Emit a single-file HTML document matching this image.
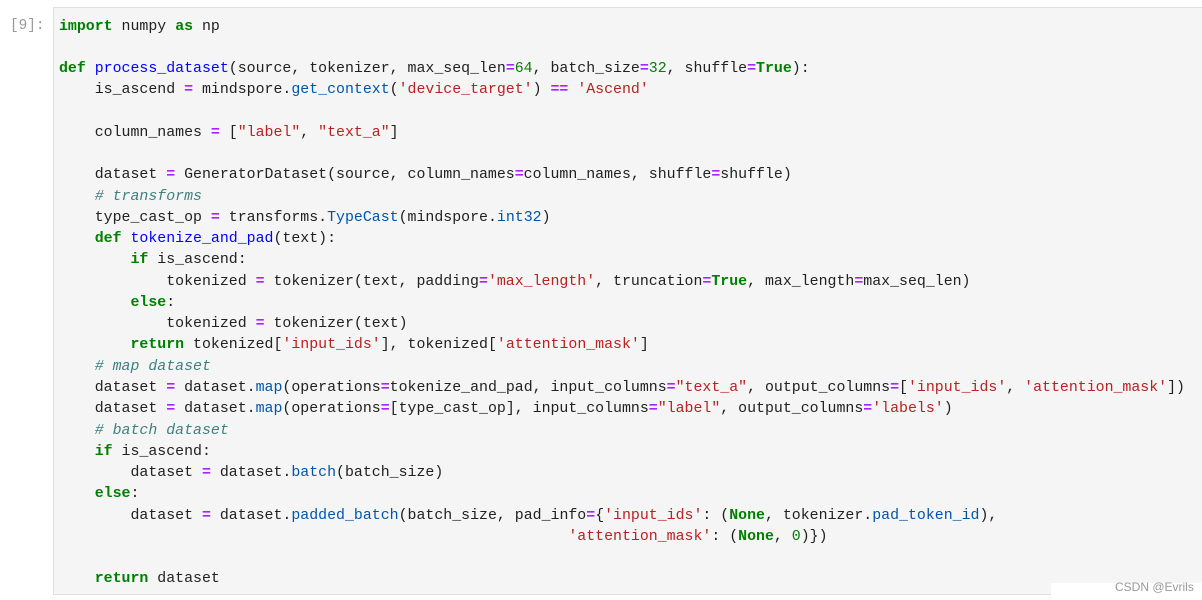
<!DOCTYPE html>
<html><head><meta charset="utf-8"><style>
html,body{margin:0;padding:0;background:#fff;width:1202px;height:600px;overflow:hidden}
.prompt{position:absolute;left:10px;top:16px;font:14.4px/21.25px "Liberation Mono",monospace;color:#999}
.box{position:absolute;left:53px;top:7px;width:1160px;height:586px;background:#f5f5f5;border:1px solid #e0e0e0}
pre{position:absolute;left:59px;top:16.5px;margin:0;font:14.9px/21.27px "Liberation Mono",monospace;color:#212121}
.k{color:#008000;font-weight:bold}.f{color:#0000ff}.o{color:#aa22ff;font-weight:bold}
.s{color:#ba2121}.c{color:#408080;font-style:italic}.n{color:#008000}.p{color:#0055aa}
.wm{position:absolute;left:1051px;top:583px;width:151px;height:17px;background:#fff}
.wm span{position:absolute;left:64px;top:-3px;font:12px "Liberation Sans",sans-serif;color:#999}
</style></head><body>
<div class="prompt">[9]:</div>
<div class="box"></div>
<pre><span class="k">import</span> numpy <span class="k">as</span> np

<span class="k">def</span> <span class="f">process_dataset</span>(source, tokenizer, max_seq_len<span class="o">=</span><span class="n">64</span>, batch_size<span class="o">=</span><span class="n">32</span>, shuffle<span class="o">=</span><span class="k">True</span>):
    is_ascend <span class="o">=</span> mindspore.<span class="p">get_context</span>(<span class="s">'device_target'</span>) <span class="o">==</span> <span class="s">'Ascend'</span>

    column_names <span class="o">=</span> [<span class="s">"label"</span>, <span class="s">"text_a"</span>]

    dataset <span class="o">=</span> GeneratorDataset(source, column_names<span class="o">=</span>column_names, shuffle<span class="o">=</span>shuffle)
    <span class="c"># transforms</span>
    type_cast_op <span class="o">=</span> transforms.<span class="p">TypeCast</span>(mindspore.<span class="p">int32</span>)
    <span class="k">def</span> <span class="f">tokenize_and_pad</span>(text):
        <span class="k">if</span> is_ascend:
            tokenized <span class="o">=</span> tokenizer(text, padding<span class="o">=</span><span class="s">'max_length'</span>, truncation<span class="o">=</span><span class="k">True</span>, max_length<span class="o">=</span>max_seq_len)
        <span class="k">else</span>:
            tokenized <span class="o">=</span> tokenizer(text)
        <span class="k">return</span> tokenized[<span class="s">'input_ids'</span>], tokenized[<span class="s">'attention_mask'</span>]
    <span class="c"># map dataset</span>
    dataset <span class="o">=</span> dataset.<span class="p">map</span>(operations<span class="o">=</span>tokenize_and_pad, input_columns<span class="o">=</span><span class="s">"text_a"</span>, output_columns<span class="o">=</span>[<span class="s">'input_ids'</span>, <span class="s">'attention_mask'</span>])
    dataset <span class="o">=</span> dataset.<span class="p">map</span>(operations<span class="o">=</span>[type_cast_op], input_columns<span class="o">=</span><span class="s">"label"</span>, output_columns<span class="o">=</span><span class="s">'labels'</span>)
    <span class="c"># batch dataset</span>
    <span class="k">if</span> is_ascend:
        dataset <span class="o">=</span> dataset.<span class="p">batch</span>(batch_size)
    <span class="k">else</span>:
        dataset <span class="o">=</span> dataset.<span class="p">padded_batch</span>(batch_size, pad_info<span class="o">=</span>{<span class="s">'input_ids'</span>: (<span class="k">None</span>, tokenizer.<span class="p">pad_token_id</span>),
                                                         <span class="s">'attention_mask'</span>: (<span class="k">None</span>, <span class="n">0</span>)})

    <span class="k">return</span> dataset</pre>
<div class="wm"><span>CSDN @Evrils</span></div>
</body></html>
